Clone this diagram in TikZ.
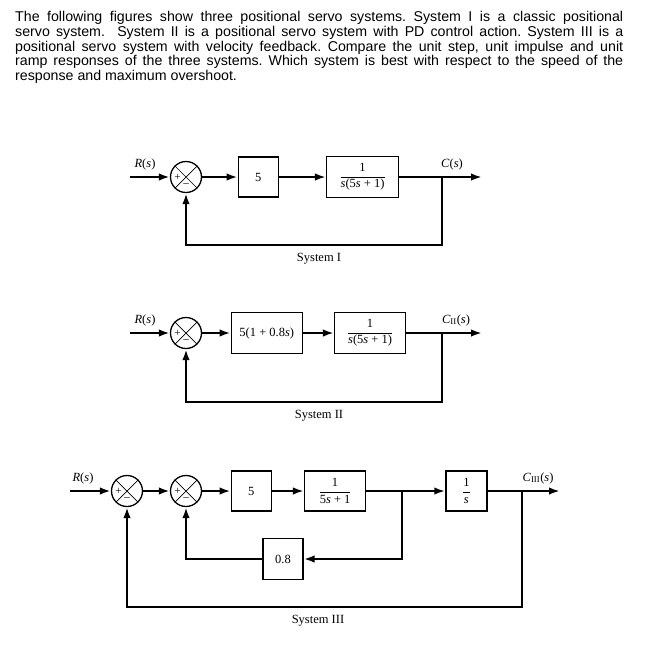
\documentclass[tikz,border=0pt]{standalone}
\usepackage{amsmath}
\usepackage{fontspec}
\setmainfont{Liberation Serif}
\newfontfamily\introfont{Liberation Sans}
\usepackage{tikz}
\usetikzlibrary{arrows.meta,positioning}

\newcommand{\blkfrac}[2]{$\dfrac{\text{#1}}{\text{#2}}$}

\begin{document}
\frenchspacing
\begin{tikzpicture}[
			x=1pt, y=-1pt,
			node distance=30pt,
			blk/.style={rectangle, draw, line width=1.3pt, minimum width=40pt, minimum height=40pt, inner sep=2pt, font=\fontsize{12.5}{14}\selectfont},
			sumj/.style={circle, draw, line width=1.3pt, minimum size=31pt, inner sep=0pt,
				path picture={
					\draw[line width=0.7pt] (path picture bounding box.north west) -- (path picture bounding box.south east)
						(path picture bounding box.north east) -- (path picture bounding box.south west);
					\node[inner sep=0pt, font=\fontsize{11}{11}\selectfont] at ([xshift=-8.5pt, yshift=-0.5pt]path picture bounding box.center) {+};
					\node[inner sep=0pt, font=\fontsize{11}{11}\selectfont] at ([yshift=-8.5pt]path picture bounding box.center) {\textendash};
				}},
			sig/.style={line width=2.7pt},
			lbl/.style={anchor=base, inner sep=0pt, font=\fontsize{12.5}{14}\selectfont},
			>={Latex[length=11pt,width=7.5pt]}
			]
			\useasboundingbox (0,0) rectangle (647,646);
			
			% Enunciado
			\node[anchor=north west, inner sep=0pt, text width=608pt, align=justify, font=\introfont\fontsize{14.2}{14.8}\selectfont] (intro) at (15,11) {The following figures show three positional servo systems. System I is a classic positional\linebreak
				servo system.\ \ System II is a positional servo system with PD control action. System III is a\linebreak
				positional servo system with velocity feedback. Compare the unit step, unit impulse and unit\linebreak
				ramp responses of the three systems. Which system is best with respect to the speed of the\linebreak
				response and maximum overshoot.};
			
			% Sistema I
			\coordinate (in1) at (130,177);
			\node[sumj] (s1) at (186,177) {};
			\node[blk, right=35.5pt of s1] (b1) {5};
			\node[blk, minimum width=72pt, minimum height=41pt, right=47pt of b1] (g1) {\blkfrac{1}{\textit{s}(5\textit{s} + 1)}};
			\coordinate (br1) at (442,177);
			\coordinate (out1) at (482,177);
			\node[lbl] (r1) at (145,167) {\textit{R}(\textit{s})};
			\node[lbl] (c1) at (452,167) {\textit{C}(\textit{s})};
			\node[lbl] (sys1) at (319,261) {System I};
			
			\draw[sig, ->] (in1) -- (s1);
			\draw[sig, ->] (s1) -- (b1);
			\draw[sig, ->] (b1) -- (g1);
			\draw[sig, ->] (g1) -- (out1);
			\draw[sig, ->] (br1) -- ++(0,68) -| (s1.south);
			
			% Sistema II
			\coordinate (in2) at (130,333);
			\node[sumj] (s2) at (186,333) {};
			\node[blk, minimum width=71pt, minimum height=41pt, right=28.5pt of s2] (b2) {5(1 + 0.8\textit{s})};
			\node[blk, minimum width=71pt, minimum height=41pt, right=31pt of b2] (g2) {\blkfrac{1}{\textit{s}(5\textit{s} + 1)}};
			\coordinate (br2) at (442,333);
			\coordinate (out2) at (482,333);
			\node[lbl] (r2) at (145,323) {\textit{R}(\textit{s})};
			\node[lbl] (c2) at (456,323) {\textit{C}\textsubscript{II}(\textit{s})};
			\node[lbl] (sys2) at (319,418) {System II};
			
			\draw[sig, ->] (in2) -- (s2);
			\draw[sig, ->] (s2) -- (b2);
			\draw[sig, ->] (b2) -- (g2);
			\draw[sig, ->] (g2) -- (out2);
			\draw[sig, ->] (br2) -- ++(0,69) -| (s2.south);
			
			% Sistema III
			\coordinate (in3) at (70,491);
			\node[sumj] (s3) at (127,491) {};
			\node[sumj] (s4) at (186,491) {};
			\node[blk, right=28.5pt of s4] (b3) {5};
			\node[blk, minimum width=61pt, right=32pt of b3] (g3) {\blkfrac{1}{5\textit{s} + 1}};
			\coordinate (br3) at (402,491);
			\node[blk, minimum width=41pt, right=79pt of g3] (h3) {\blkfrac{1}{\textit{s}}};
			\coordinate (br4) at (522,491);
			\coordinate (out3) at (560,491);
			\node[blk, minimum height=41pt] (k3) at (283,559) {0.8};
			\node[lbl] (r3) at (83,481) {\textit{R}(\textit{s})};
			\node[lbl] (c3) at (538,481) {\textit{C}\textsubscript{III}(\textit{s})};
			\node[lbl] (sys3) at (318,623) {System III};
			
			\draw[sig, ->] (in3) -- (s3);
			\draw[sig, ->] (s3) -- (s4);
			\draw[sig, ->] (s4) -- (b3);
			\draw[sig, ->] (b3) -- (g3);
			\draw[sig, ->] (g3) -- (h3);
			\draw[sig, ->] (h3) -- (out3);
			\draw[sig, ->] (br3) |- (k3);
			\draw[sig, ->] (k3) -| (s4.south);
			\draw[sig, ->] (br4) -- ++(0,116) -| (s3.south);
			
		\end{tikzpicture}
\end{document}
